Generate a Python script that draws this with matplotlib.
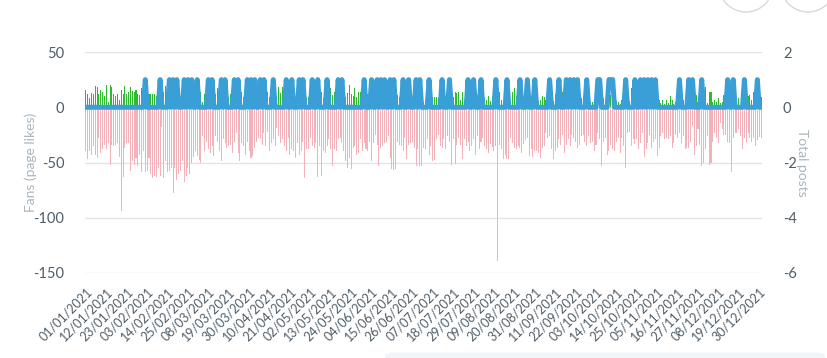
import numpy as np
import pandas as pd
import matplotlib
matplotlib.use("Agg")
import matplotlib.pyplot as plt
from matplotlib.patches import Ellipse, FancyBboxPatch

# daily fans gained (green) per month, 2021
gained_jan = [16, 12, 8, 13, 12, 19, 18, 12, 16, 14, 10, 20, 5, 20, 18, 12, 10, 12, 7, 16, 12, 19, 12, 14, 18, 15, 14, 16, 12, 11, 17]
gained_feb = [10, 9, 8, 12, 12, 12, 12, 10, 9, 8, 11, 14, 19, 8, 10, 12, 9, 10, 11, 8, 9, 12, 14, 10, 8, 11, 9, 10]
gained_mar = [8, 10, 13, 14, 5, 12, 9, 8, 10, 7, 9, 12, 17, 8, 10, 9, 8, 11, 9, 12, 8, 10, 9, 8, 11, 14, 9, 8, 10, 22, 12]
gained_apr = [9, 16, 8, 10, 9, 8, 7, 8, 14, 9, 8, 7, 9, 10, 18, 13, 18, 14, 9, 14, 8, 9, 10, 8, 9, 7, 8, 9, 8, 8]
gained_may = [9, 8, 7, 9, 8, 10, 9, 14, 8, 9, 7, 8, 17, 11, 14, 8, 9, 10, 8, 9, 9, 13, 20, 12, 10, 17, 9, 14, 14, 8, 9]
gained_jun = [17, 12, 8, 9, 7, 8, 9, 8, 7, 9, 8, 7, 8, 9, 8, 7, 13, 11, 9, 8, 20, 9, 8, 11, 8, 7, 9, 8, 9, 5]
gained_jul = [6, 5, 7, 8, 8, 11, 9, 9, 9, 8, 8, 12, 7, 8, 8, 8, 3, 9, 14, 13, 14, 7, 14, 7, 8, 6, 7, 8, 6, 8, 11]
gained_aug = [7, 10, 6, 8, 7, 10, 6, 10, 8, 6, 7, 14, 7, 5, 6, 7, 6, 5, 14, 17, 10, 17, 6, 7, 5, 6, 7, 6, 5, 20, 17]
gained_sep = [12, 6, 7, 10, 9, 7, 5, 6, 5, 6, 12, 5, 6, 6, 14, 11, 7, 8, 5, 6, 6, 5, 6, 12, 8, 5, 6, 5, 6, 5]
gained_oct = [5, 6, 10, 5, 6, 6, 8, 7, 5, 6, 11, 5, 6, 6, 5, 3, 7, 5, 6, 5, 6, 17, 6, 5, 6, 5, 6, 7, 6, 20, 15]
gained_nov = [5, 4, 6, 5, 6, 7, 4, 7, 3, 7, 4, 10, 7, 3, 5, 6, 4, 5, 7, 2, 4, 5, 6, 4, 5, 11, 5, 4, 6, 5]
gained_dec = [18, 4, 14, 14, 5, 7, 5, 8, 4, 5, 11, 5, 4, 6, 5, 4, 6, 8, 8, 2, 5, 4, 6, 10, 11, 7, 14, 8, 5, 4, 9]

# daily fans lost (pink)
lost_jan = [-40, -47, -40, -43, -35, -43, -46, -28, -41, -38, -34, -38, -32, -52, -34, -35, -34, -32, -45, -94, -63, -37, -32, -32, -58, -49, -52, -46, -53, -43, -59]
lost_feb = [-40, -59, -58, -46, -60, -64, -62, -63, -55, -62, -18, -64, -49, -59, -58, -55, -78, -55, -66, -60, -58, -49, -68, -62, -55, -60, -50, -45]
lost_mar = [-40, -44, -48, -50, -26, -40, -31, -38, -41, -35, -44, -26, -31, -40, -49, -29, -32, -37, -35, -34, -41, -31, -23, -41, -49, -32, -35, -43, -31, -40, -46]
lost_apr = [-44, -37, -31, -28, -29, -34, -23, -35, -22, -40, -32, -29, -35, -19, -26, -32, -29, -35, -40, -28, -43, -38, -40, -46, -32, -43, -40, -31, -64, -38]
lost_may = [-38, -28, -35, -37, -32, -63, -35, -62, -40, -41, -35, -29, -38, -53, -38, -40, -29, -28, -32, -40, -49, -55, -46, -56, -37, -35, -43, -41, -29, -40, -32]
lost_jun = [-38, -40, -31, -49, -32, -25, -34, -53, -37, -35, -32, -31, -26, -46, -56, -57, -56, -31, -34, -35, -40, -28, -47, -34, -32, -31, -37, -53, -38, -53]
lost_jul = [-53, -37, -38, -29, -43, -35, -49, -48, -29, -25, -35, -37, -29, -38, -26, -31, -52, -29, -51, -34, -28, -34, -47, -29, -35, -31, -40, -35, -29, -43, -26]
lost_aug = [-38, -31, -28, -35, -38, -41, -33, -36, -40, -35, -139, -34, -38, -47, -43, -47, -47, -28, -32, -37, -38, -35, -37, -41, -33, -30, -28, -44, -38, -45, -40]
lost_sep = [-40, -41, -46, -37, -35, -23, -28, -26, -38, -47, -40, -37, -29, -34, -25, -41, -34, -29, -35, -25, -28, -31, -37, -34, -26, -25, -31, -35, -26, -32]
lost_oct = [-31, -40, -34, -23, -29, -53, -31, -28, -43, -40, -34, -38, -40, -31, -28, -41, -28, -35, -55, -23, -22, -35, -29, -33, -29, -38, -32, -23, -45, -38, -32]
lost_nov = [-25, -37, -31, -29, -44, -37, -26, -23, -29, -28, -29, -26, -37, -32, -25, -28, -23, -32, -26, -38, -37, -37, -31, -17, -43, -35, -20, -34, -53, -50]
lost_dec = [-38, -26, -52, -50, -31, -23, -28, -32, -14, -20, -25, -25, -31, -32, -59, -28, -23, -23, -20, -26, -38, -28, -32, -23, -28, -31, -28, -35, -30, -27, -28]

# day-of-year indices (0 = 1 Jan) on which one post was published
post_days = [32, 40, 45, 47, 49, 53, 55, 57, 60, 66, 68, 73, 75, 80, 82, 87, 89, 91, 94, 96,
             101, 108, 111, 115, 117, 122, 125, 130, 136, 138, 150, 154, 157, 159, 161, 164, 166,
             171, 174, 178, 180, 185, 192, 196, 206, 209, 213, 221, 227, 234, 238, 242, 250, 255,
             259, 261, 263, 265, 270, 276, 277, 282, 283, 284, 291, 296, 299, 301, 303, 305, 307,
             320, 325, 327, 332, 346, 349, 355, 362]

gained = np.concatenate([gained_jan, gained_feb, gained_mar, gained_apr, gained_may, gained_jun,
                         gained_jul, gained_aug, gained_sep, gained_oct, gained_nov, gained_dec])
lost = np.concatenate([lost_jan, lost_feb, lost_mar, lost_apr, lost_may, lost_jun,
                       lost_jul, lost_aug, lost_sep, lost_oct, lost_nov, lost_dec])
dates = pd.date_range("2021-01-01", "2021-12-31", freq="D")
posts = np.zeros(len(dates))
posts[post_days] = 1

plt.rcParams["font.family"] = ["Lato", "DejaVu Sans"]
plt.rcParams["axes.unicode_minus"] = False
tick_col = "#4f5d68"
title_col = "#a9b5bf"

fig = plt.figure(figsize=(8.28, 3.58), dpi=100)
ax = fig.add_axes([85 / 828, 1 - 273 / 358, 677 / 828, 221 / 358])
x = np.arange(len(dates))

ax.bar(x, gained, width=0.55, color="#2dba2d", zorder=2)
ax.bar(x, lost, width=0.55, color="#f3b1ba", zorder=2)
ax.set_ylim(-150, 50)
ax.set_yticks([-150, -100, -50, 0, 50])
ax.set_xlim(-0.5, len(dates) - 0.5)
ax.grid(axis="y", color="#e2e4e6", lw=1, zorder=0)
ax.set_axisbelow(True)

ticks = x[::11]
ax.set_xticks(ticks)
ax.set_xticklabels([dates[i].strftime("%d/%m/%Y") for i in ticks], rotation=45,
                   ha="right", va="top", rotation_mode="anchor", fontsize=9, color=tick_col)
ax.tick_params(axis="x", length=0, pad=9)
ax.tick_params(axis="y", length=0, pad=15, labelsize=10.5, labelcolor=tick_col)
ax.set_ylabel("Fans (page likes)", color=title_col, fontsize=10, labelpad=-3)
for s in ax.spines.values():
    s.set_visible(False)

ax2 = ax.twinx()
ax2.plot(x, posts, color="#3a9fd6", lw=3.6, solid_joinstyle="round", solid_capstyle="round", zorder=3)
ax2.set_ylim(-6, 2)
ax2.set_yticks([-6, -4, -2, 0, 2])
ax2.tick_params(axis="y", length=0, pad=15, labelsize=10.5, labelcolor=tick_col)
ax2.set_ylabel("Total posts", color=title_col, fontsize=10, rotation=270, labelpad=8)
for s in ax2.spines.values():
    s.set_visible(False)

# page decorations around the chart
for cx in (746, 808):
    fig.patches.append(Ellipse((cx / 828, 1 + 15 / 358), 54 / 828, 54 / 358, transform=fig.transFigure,
                               fill=False, edgecolor="#d5d8dc", lw=1))
fig.patches.append(FancyBboxPatch((385 / 828, -0.02), 440 / 828, 0.035, boxstyle="round,pad=0,rounding_size=0.01",
                                  transform=fig.transFigure, facecolor="#f1f4f9", edgecolor="none"))

fig.savefig("out.png", dpi=100)
